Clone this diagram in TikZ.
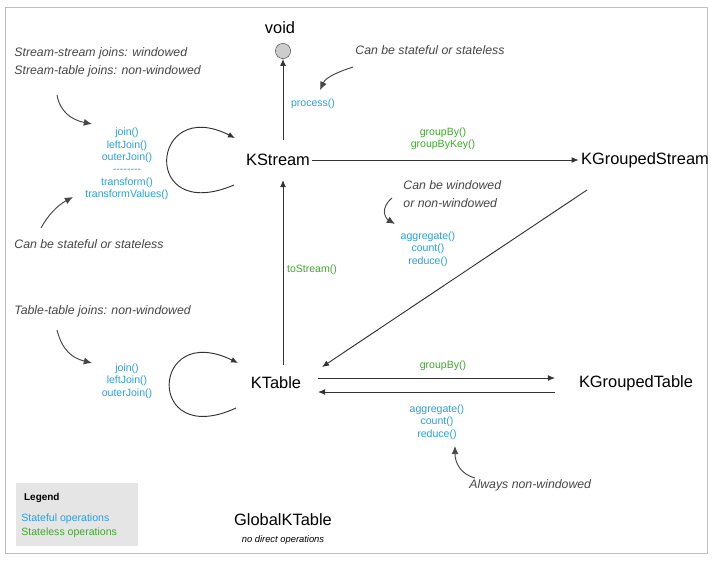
\documentclass[tikz,border=0pt]{standalone}
\usepackage{fontspec}
\setmainfont{Liberation Sans}
\usetikzlibrary{arrows.meta,positioning}
\definecolor{opblue}{RGB}{40,160,225}
\definecolor{opgreen}{RGB}{60,170,40}
\definecolor{notegray}{RGB}{70,70,70}
\begin{document}
\begin{tikzpicture}[x=0.03cm,y=-0.03cm]
    \tikzstyle{knode} = [font=\fontsize{14}{16}\selectfont, inner sep=2pt]
    \tikzstyle{sful} = [text=opblue, font=\fontsize{9}{10.6}\selectfont, align=center, inner sep=1pt]
    \tikzstyle{sless} = [text=opgreen, font=\fontsize{9}{10.6}\selectfont, align=center, inner sep=1pt]
    \tikzstyle{note} = [text=notegray, font=\itshape\fontsize{10.5}{15.5}\selectfont, align=left, inner sep=1pt]
    \tikzstyle{flow} = [-{Latex[length=6pt,width=5pt]}, thick, draw=black!80]
    \tikzstyle{hint} = [-{Latex[length=7pt,width=6pt]}, thick, draw=notegray]

    \useasboundingbox (0,0) rectangle (726,561);
    \draw[black!25, thick] (5,7) rectangle (707,553);

    % main nodes
    \node[knode] (void) at (280,28) {void};
    \node[circle, draw=black!70, fill=black!20, minimum size=13pt, inner sep=0pt] (sink) at (283,51) {};
    \node[knode] (ks) at (278,160) {KStream};
    \node[knode] (kgs) at (645,160) {KGroupedStream};
    \node[knode] (kt) at (276,383) {KTable};
    \node[knode] (kgt) at (636,383) {KGroupedTable};
    \node[knode] (gkt) at (283,520) {GlobalKTable};
    \node[font=\itshape\fontsize{8}{9}\selectfont] (nodo) at (283,540) {no direct operations};
    \coordinate (kstop) at (283,140);
    \coordinate (ksbot) at (283,180);
    \coordinate (kttop) at (283,365);

    % connections
    \draw[flow] (kstop) -- (sink);
    \draw[flow] (ks) -- (kgs);
    \draw[flow] (587,190) coordinate (kgsa) -- (322,367) coordinate (kta);
    \draw[flow] (kttop) -- (ksbot);
    \draw[flow] (318,378) coordinate (ktr1) -- (555,378) coordinate (kgtl1);
    \draw[flow] (555,392) coordinate (kgtl2) -- (318,392) coordinate (ktr2);
    \draw[flow] (234,185) coordinate (ksl) .. controls (140,225) and (150,95) .. (235,138);
    \draw[flow] (236,408) coordinate (ktl) .. controls (145,450) and (150,320) .. (238,363);

    % operations
    \node[sful] (proc) at (313,104) {process()};
    \node[sless] (grp) at (443,139) {groupBy()\\groupByKey()};
    \node[sful] (agg) at (428,249) {aggregate()\\count()\\reduce()};
    \node[sless] (tostr) at (312,270) {toStream()};
    \node[sless] (tgrp) at (443,366) {groupBy()};
    \node[sful] (tagg) at (437,422) {aggregate()\\count()\\reduce()};
    \node[sful] (sops) at (127,164) {join()\\leftJoin()\\outerJoin()\\-{}-{}-{}-{}-{}-{}-{}-\\transform()\\transformValues()};
    \node[sful] (tops) at (127,381) {join()\\leftJoin()\\outerJoin()};

    % annotations
    \node[note, anchor=west] (sjoin) at (13,62) {Stream-stream joins: windowed\\Stream-table joins: non-windowed};
    \node[note, anchor=west] (sstate) at (13,244) {Can be stateful or stateless};
    \node[note, anchor=west] (pstate) at (354,50) {Can be stateful or stateless};
    \node[note, anchor=west] (win) at (402,194) {Can be windowed\\or non-windowed};
    \node[note, anchor=west] (tjoin) at (13,311) {Table-table joins: non-windowed};
    \node[note, anchor=west] (always) at (468,485) {Always non-windowed};

    \draw[hint] (57,95) coordinate (a1) .. controls (60,112) and (72,120) .. (92,124);
    \draw[hint] (41,228) coordinate (a2) .. controls (48,215) and (58,205) .. (73,197);
    \draw[hint] (353,67) coordinate (a3) .. controls (338,72) and (326,77) .. (320,90);
    \draw[hint] (392,198) coordinate (a4) .. controls (380,208) and (385,218) .. (395,224);
    \draw[hint] (57,330) coordinate (a5) .. controls (62,350) and (72,358) .. (92,363);
    \draw[hint] (475,478) coordinate (a6) .. controls (460,474) and (455,462) .. (455,446);

    % legend
    \fill[black!10] (16,483) rectangle (138,546);
    \node[font=\bfseries\fontsize{8.5}{10}\selectfont, anchor=west] (leg) at (20,498) {Legend};
    \node[sful, anchor=west] (legs) at (20,519) {Stateful operations};
    \node[sless, anchor=west] (legl) at (20,533) {Stateless operations};
\end{tikzpicture}
\end{document}
